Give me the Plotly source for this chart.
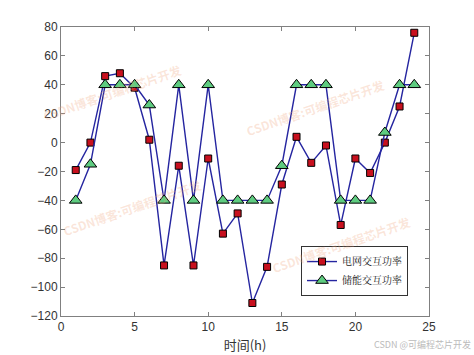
import plotly.graph_objects as go

hours = list(range(1, 25))
grid_power = [-19, 0, 46, 48, 38, 2, -85, -16, -85, -11, -63, -49,
              -111, -86, -29, 4, -14, -2, -57, -11, -21, 0, 25, 76]
storage_power = [-40, -15, 40, 40, 40, 26, -40, 40, -40, 40, -40, -40,
                 -40, -40, -16, 40, 40, 40, -40, -40, -40, 7, 40, 40]
series_names = ["电网交互功率", "储能交互功率"]
x_ticks = [0, 5, 10, 15, 20, 25]
y_ticks = list(range(-120, 81, 20))

line_color = "#2525A0"
fig = go.Figure()
fig.add_trace(go.Scatter(
    x=hours, y=grid_power, name=series_names[0], mode="lines+markers",
    line=dict(color=line_color, width=1.4),
    marker=dict(symbol="square", size=7, color="#C8101E",
                line=dict(color="#000000", width=1))))
fig.add_trace(go.Scatter(
    x=hours, y=storage_power, name=series_names[1], mode="lines+markers",
    line=dict(color=line_color, width=1.4),
    marker=dict(symbol="triangle-up", size=11, color="#5ECC80",
                line=dict(color="#000000", width=1))))

axis_common = dict(showline=True, linecolor="#808080", linewidth=1,
                   mirror="allticks", ticks="inside", ticklen=4,
                   tickcolor="#808080", showgrid=False, zeroline=False,
                   automargin=False,
                   tickfont=dict(family="Liberation Sans, Arial", size=12, color="#333333"))
fig.update_xaxes(range=[0, 25], tickvals=x_ticks, **axis_common,
                 title=dict(text="时间(h)", font=dict(family="Noto Sans CJK SC", size=13, color="#333333"),
                            standoff=7))
fig.update_yaxes(range=[-120, 80], tickvals=y_ticks, **axis_common)

wm_font = dict(family="Noto Sans CJK SC", size=12, color="rgba(240,165,125,0.28)")
wm_text = "<b>CSDN博客:可编程芯片开发</b>"
annotations = []
for (xp, yp) in [(0.138, 0.772), (0.690, 0.720), (0.193, 0.374), (0.761, 0.246)]:
    annotations.append(dict(text=wm_text, xref="paper", yref="paper", x=xp, y=yp,
                            xanchor="center", yanchor="middle",
                            showarrow=False, textangle=-19, font=wm_font))
annotations.append(dict(text="CSDN @可编程芯片开发", xref="paper", yref="paper",
                        x=1.12, y=-0.1, xanchor="right", yanchor="middle", showarrow=False,
                        font=dict(family="Noto Sans CJK SC", size=9, color="#BBBBBB")))

fig.update_layout(
    width=474, height=355,
    margin=dict(l=61, r=45, t=27, b=39),
    paper_bgcolor="white", plot_bgcolor="white",
    showlegend=True,
    legend=dict(x=0.943, y=0.069, xanchor="right", yanchor="bottom",
                bgcolor="white", bordercolor="#333333", borderwidth=1,
                font=dict(family="Noto Serif CJK SC, Noto Sans CJK SC", size=10, color="#222222"),
                itemwidth=30, tracegroupgap=0),
    annotations=annotations,
)
fig.write_html("out.html")
